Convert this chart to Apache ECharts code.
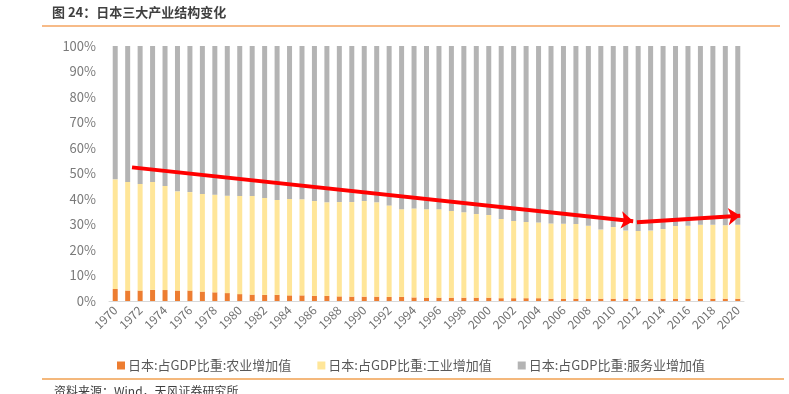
<!DOCTYPE html>
<html>
<head>
<meta charset="utf-8">
<script src="https://cdn.jsdelivr.net/npm/echarts@6/dist/echarts.min.js"></script>
<style>
html,body{margin:0;padding:0;background:#fff;}
#chart{width:789px;height:394px;}
</style>
</head>
<body>
<div id="chart"></div>
<script>
var years = [];
for (var y = 1970; y <= 2020; y++) years.push(String(y));

var agriculture = [4.7,4.1,4.1,4.4,4.3,4.1,4.1,3.7,3.4,3.1,2.7,2.5,2.4,2.4,2.2,2.2,2.0,2.0,1.8,1.7,1.7,1.7,1.6,1.6,1.4,1.3,1.3,1.3,1.3,1.3,1.3,1.1,1.1,1.1,1.1,0.9,0.9,0.9,0.9,0.9,0.9,0.9,0.9,0.9,0.9,0.9,0.9,0.9,0.9,0.9,0.9];
var industry = [43.0,42.6,41.8,42.3,40.8,38.9,38.6,38.3,38.3,38.2,38.5,38.7,38.0,37.2,37.8,37.7,37.2,36.7,37.0,37.1,37.5,37.0,35.9,34.4,34.9,34.7,34.7,34.0,33.5,32.8,32.4,31.1,30.3,29.9,29.7,29.5,29.4,29.3,28.6,27.1,28.1,26.7,26.6,26.7,27.3,28.5,28.6,29.0,29.0,28.8,29.0];
var services = [52.3,53.3,54.1,53.3,54.9,57.0,57.3,58.0,58.3,58.7,58.8,58.8,59.6,60.4,60.0,60.1,60.8,61.3,61.2,61.2,60.8,61.3,62.5,64.0,63.7,64.0,64.0,64.7,65.2,65.9,66.3,67.8,68.6,69.0,69.2,69.6,69.7,69.8,70.5,72.0,71.0,72.4,72.5,72.4,71.8,70.6,70.5,70.1,70.1,70.3,70.1];

var seriesNames = ['日本:占GDP比重:农业增加值','日本:占GDP比重:工业增加值','日本:占GDP比重:服务业增加值'];
var yTicks = [0,10,20,30,40,50,60,70,80,90,100];

// arrow annotations: [xIndex, percent]
var arrow1 = [[1.35, 52.4], [41.6, 31.3]];
var arrow2 = [[41.9, 30.9], [50.2, 33.4]];

var chart = echarts.init(document.getElementById('chart'));
var font = '"Noto Sans CJK SC", "Noto Sans", sans-serif';

chart.setOption({
  animation: false,
  backgroundColor: '#ffffff',
  textStyle: { fontFamily: font },
  grid: { left: 109, right: 45, top: 46, bottom: 93, containLabel: false },
  legend: {
    left: 112, top: 354,
    itemWidth: 8, itemHeight: 8, icon: 'rect', itemGap: 26,
    textStyle: { fontSize: 13, color: '#595959', fontFamily: font, padding: [0,0,0,-2] },
    data: seriesNames
  },
  xAxis: [{
    type: 'category',
    data: years,
    axisLine: { lineStyle: { color: '#D9D9D9', width: 1 } },
    axisTick: { show: false },
    axisLabel: { interval: 1, rotate: 45, fontSize: 12, color: '#707070', margin: 7 }
  }, {
    type: 'value', min: -0.5, max: 50.5, show: false
  }],
  yAxis: {
    type: 'value', min: 0, max: 100, interval: 10,
    axisLine: { show: false }, axisTick: { show: false },
    splitLine: { show: false },
    axisLabel: { fontSize: 13, color: '#7A7A7A', margin: 13, formatter: function (v) { return v + '%'; } }
  },
  series: [
    { name: seriesNames[0], type: 'bar', stack: 'a', barWidth: 5, data: agriculture, itemStyle: { color: '#ED7D31' } },
    { name: seriesNames[1], type: 'bar', stack: 'a', barWidth: 5, data: industry, itemStyle: { color: '#FFE699' } },
    { name: seriesNames[2], type: 'bar', stack: 'a', barWidth: 5, data: services, itemStyle: { color: '#B4B4B4' } },
    {
      type: 'line', xAxisIndex: 1, yAxisIndex: 0, data: [], silent: true,
      markLine: {
        silent: true, animation: false,
        symbol: ['none', 'arrow'], symbolSize: [13, 12],
        label: { show: false },
        lineStyle: { color: '#FF0000', width: 4, type: 'solid' },
        data: [
          [{ coord: arrow1[0] }, { coord: arrow1[1] }],
          [{ coord: arrow2[0] }, { coord: arrow2[1] }]
        ]
      }
    }
  ],
  graphic: [
    { type: 'text', left: 52, top: 6, style: { text: '图 24：日本三大产业结构变化', fontSize: 13, fontWeight: 'bold', fill: '#404040', fontFamily: font } },
    { type: 'line', shape: { x1: 42, y1: 26, x2: 780, y2: 26 }, style: { stroke: '#F4A460', lineWidth: 1.5 } },
    { type: 'line', shape: { x1: 42, y1: 379, x2: 784, y2: 379 }, style: { stroke: '#F0A050', lineWidth: 1.5 } },
    { type: 'text', left: 54, top: 385, style: { text: '资料来源：Wind，天风证券研究所', fontSize: 12, fill: '#404040', fontFamily: font } }
  ]
});
</script>
</body>
</html>
